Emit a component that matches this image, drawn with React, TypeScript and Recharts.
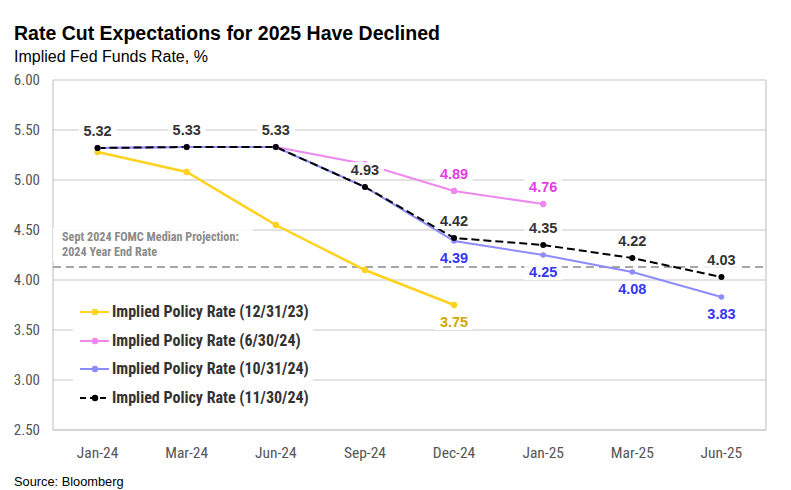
import React from 'react';
import {
  LineChart,
  Line,
  XAxis,
  YAxis,
  CartesianGrid,
  ReferenceLine,
  Label,
  Legend,
} from 'recharts';

// Month labels along the horizontal axis
const months = ['Jan-24', 'Mar-24', 'Jun-24', 'Sep-24', 'Dec-24', 'Jan-25', 'Mar-25', 'Jun-25'];

// Implied policy rate paths, one per observation date (%)
const policyDec23 = [5.28, 5.08, 4.55, 4.1, 3.75, null, null, null];
const policyJun24 = [5.32, 5.33, 5.33, 5.16, 4.89, 4.76, null, null];
const policyOct24 = [5.32, 5.33, 5.33, 4.93, 4.39, 4.25, 4.08, 3.83];
const policyNov24 = [5.32, 5.33, 5.33, 4.93, 4.42, 4.35, 4.22, 4.03];

// Sept 2024 FOMC median projection for year-end 2024
const fomcYearEnd = 4.13;

const yTicks = [2.5, 3.0, 3.5, 4.0, 4.5, 5.0, 5.5, 6.0];

const rows = months.map((month, i) => ({
  month,
  dec23: policyDec23[i],
  jun24: policyJun24[i],
  oct24: policyOct24[i],
  nov24: policyNov24[i],
}));

const NARROW = '"Liberation Sans Narrow", "Arial Narrow", "Roboto Condensed", "Liberation Sans", Arial, sans-serif';
const SANS = '"Liberation Sans", Arial, Helvetica, sans-serif';

type Series = {
  key: 'dec23' | 'jun24' | 'oct24' | 'nov24';
  name: string;
  color: string;
  labelColor: string;
  dash?: string;
  width: number;
  r: number;
  labelIdx: number[];
  side: 'above' | 'below';
};

const series: Series[] = [
  { key: 'dec23', name: 'Implied Policy Rate (12/31/23)', color: '#FFD21F', labelColor: '#D2A800', width: 2.5, r: 3.2, labelIdx: [4], side: 'below' },
  { key: 'jun24', name: 'Implied Policy Rate (6/30/24)', color: '#EE88EE', labelColor: '#E43CE4', width: 2, r: 3.2, labelIdx: [4, 5], side: 'above' },
  { key: 'oct24', name: 'Implied Policy Rate (10/31/24)', color: '#8C8CFF', labelColor: '#3434F2', width: 2, r: 2.8, labelIdx: [4, 5, 6, 7], side: 'below' },
  { key: 'nov24', name: 'Implied Policy Rate (11/30/24)', color: '#000000', labelColor: '#333333', dash: '8 4', width: 2, r: 3, labelIdx: [0, 1, 2, 3, 4, 5, 6, 7], side: 'above' },
];

// Value label with a soft white plate behind it
const makeValueLabel = (s: Series) => (props: any) => {
  const { x, y, value, index } = props;
  if (value == null || !s.labelIdx.includes(index)) return null;
  const cy = s.side === 'above' ? y - 17 : y + 17;
  return (
    <g key={`${s.key}-lbl-${index}`}>
      <rect x={x - 19} y={cy - 8} width={38} height={16} fill="#ffffff" fillOpacity={0.85} />
      <text
        x={x}
        y={cy}
        textAnchor="middle"
        dominantBaseline="central"
        fontFamily={SANS}
        fontWeight={700}
        fontSize={14.5}
        fill={s.labelColor}
      >
        {Number(value).toFixed(2)}
      </text>
    </g>
  );
};

const FomcLabel = (props: any) => {
  const vb = props.viewBox || {};
  const x0 = vb.x ?? 0;
  const y0 = vb.y ?? 0;
  return (
    <g>
      <rect x={x0} y={y0 - 39} width={200} height={34} fill="#ffffff" fillOpacity={0.85} />
      <text x={x0 + 9} y={y0 - 26} fontFamily={NARROW} fontWeight={700} fontSize={12.2} fill="#8a8a8a">
        Sept 2024 FOMC Median Projection:
      </text>
      <text x={x0 + 9} y={y0 - 11} fontFamily={NARROW} fontWeight={700} fontSize={12.2} fill="#8a8a8a">
        2024 Year End Rate
      </text>
    </g>
  );
};

const LegendBox = () => (
  <div style={{ background: '#ffffff', width: 240, paddingLeft: 7, boxSizing: 'border-box' }}>
    {series.map((s) => (
      <div key={s.key} style={{ display: 'flex', alignItems: 'center', height: 28.6 }}>
        <svg width={32} height={10} style={{ display: 'block' }}>
          <line x1={0} x2={29} y1={5} y2={5} stroke={s.color} strokeWidth={2} strokeDasharray={s.dash ? '6 4' : undefined} />
          <circle cx={15} cy={5} r={3.2} fill={s.color} />
        </svg>
        <span
          style={{
            fontFamily: NARROW,
            fontWeight: 700,
            fontSize: 16,
            color: '#333333',
            lineHeight: 1,
            whiteSpace: 'nowrap',
          }}
        >
          {s.name}
        </span>
      </div>
    ))}
  </div>
);

export default function App() {
  return (
    <div style={{ position: 'absolute', left: 0, top: 0, width: 791, height: 490, background: '#ffffff' }}>
      <div
        style={{
          position: 'absolute',
          left: 14,
          top: 23.5,
          fontFamily: SANS,
          fontWeight: 700,
          fontSize: 19.5,
          lineHeight: 1,
          color: '#000',
          whiteSpace: 'nowrap',
        }}
      >
        Rate Cut Expectations for 2025 Have Declined
      </div>
      <div
        style={{
          position: 'absolute',
          left: 14,
          top: 49,
          fontFamily: SANS,
          fontSize: 16,
          lineHeight: 1,
          color: '#000',
          whiteSpace: 'nowrap',
        }}
      >
        Implied Fed Funds Rate, %
      </div>
      <div
        style={{
          position: 'absolute',
          left: 14,
          top: 475.5,
          fontFamily: SANS,
          fontSize: 12.8,
          lineHeight: 1,
          color: '#000',
          whiteSpace: 'nowrap',
        }}
      >
        Source: Bloomberg
      </div>
      <div style={{ position: 'absolute', left: 0, top: 0 }}>
        <LineChart width={791} height={490} data={rows} margin={{ top: 80, right: 25, bottom: 30, left: 13 }}>
          <CartesianGrid
            stroke="#c6c6c6"
            strokeWidth={1.2}
            horizontal
            vertical
            verticalCoordinatesGenerator={({ offset }: any) => [offset.left, offset.left + offset.width]}
          />
          <XAxis
            dataKey="month"
            scale="band"
            interval={0}
            height={30}
            tickLine={false}
            tickSize={0}
            tickMargin={17}
            axisLine={{ stroke: '#c6c6c6', strokeWidth: 1.2 }}
            tick={{ fontFamily: NARROW, fontSize: 15.5, fill: '#555555' }}
          />
          <YAxis
            domain={[2.5, 6]}
            ticks={yTicks}
            interval={0}
            width={40}
            axisLine={false}
            tickLine={false}
            tickSize={0}
            tickMargin={13}
            tickFormatter={(v: number) => v.toFixed(2)}
            tick={{ fontFamily: NARROW, fontSize: 15, fill: '#555555' }}
          />
          <ReferenceLine y={fomcYearEnd} stroke="#a6a6a6" strokeWidth={2} strokeDasharray="8 5">
            <Label content={<FomcLabel />} />
          </ReferenceLine>
          {series.map((s) => (
            <Line
              key={s.key}
              dataKey={s.key}
              name={s.name}
              type="linear"
              stroke={s.color}
              strokeWidth={s.width}
              strokeDasharray={s.dash}
              dot={{ r: s.r, fill: s.color, stroke: s.color, strokeWidth: 0 }}
              activeDot={false}
              isAnimationActive={false}
              connectNulls={false}
              label={makeValueLabel(s)}
            />
          ))}
          <Legend
            layout="horizontal"
            verticalAlign="middle"
            align="center"
            content={<LegendBox />}
            wrapperStyle={{ position: 'absolute', left: 73, top: 298, width: 240 }}
          />
        </LineChart>
      </div>
    </div>
  );
}
